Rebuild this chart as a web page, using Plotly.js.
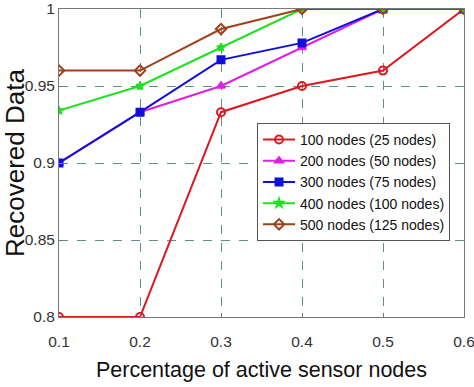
<!DOCTYPE html>
<html><head><meta charset="utf-8">
<script src="https://cdn.plot.ly/plotly-3.0.1.min.js"></script>
<style>body{margin:0;background:#fff}#c{width:474px;height:387px}</style>
</head><body><div id="c"></div>
<script>
const xVals = [0.1, 0.2, 0.3, 0.4, 0.5, 0.6];
const names = ["100 nodes (25 nodes)", "200 nodes (50 nodes)", "300 nodes (75 nodes)", "400 nodes (100 nodes)", "500 nodes (125 nodes)"];
const s100 = [0.8, 0.8, 0.933, 0.95, 0.96, 1.0];
const s200 = [0.9, 0.933, 0.95, 0.975, 1.0, 1.0];
const s300 = [0.9, 0.933, 0.967, 0.978, 1.0, 1.0];
const s400 = [0.934, 0.95, 0.975, 1.0, 1.0, 1.0];
const s500 = [0.96, 0.96, 0.987, 1.0, 1.0, 1.0];
const xTicks = ["0.1", "0.2", "0.3", "0.4", "0.5", "0.6"];
const yTicks = ["0.8", "0.85", "0.9", "0.95", "1"];

const series = [s100, s200, s300, s400, s500];
const colors = ["#dc1820", "#e020e0", "#1010d8", "#20e020", "#a0401a"];
const symbols = ["circle-open", "triangle-up", "square", "star", "diamond-open"];
const sizes = [8, 7, 7, 6, 8];
const traces = series.map((s, i) => ({
  x: xVals, y: s, name: names[i], type: "scatter", mode: "lines+markers",
  line: {color: colors[i], width: 2},
  marker: {symbol: symbols[i], size: sizes[i], color: colors[i], line: {color: colors[i], width: 2}}
}));

const gridColor = "#5f9090";
const layout = {
  width: 474, height: 387,
  margin: {l: 59, r: 10, t: 9, b: 70},
  paper_bgcolor: "#fff", plot_bgcolor: "#fff",
  font: {family: "Liberation Sans, Arial, sans-serif", color: "#222"},
  showlegend: true,
  legend: {x: 0.489, y: 0.63, xanchor: "left", yanchor: "top", bgcolor: "#fff",
    bordercolor: "#555", borderwidth: 1, font: {size: 14, color: "#111"},
    tracegroupgap: 0, itemwidth: 32},
  xaxis: {range: [0.1, 0.6], tickvals: xVals, ticktext: xTicks,
    showgrid: true, gridcolor: gridColor, griddash: "dash", gridwidth: 1,
    showline: true, linecolor: "#777", linewidth: 1, mirror: true, zeroline: false,
    ticks: "inside", ticklen: 4, tickcolor: "#777", ticklabeloverflow: "allow",
    ticklabelstandoff: 10,
    tickfont: {size: 15.5, color: "#333"},
    title: {text: "Percentage of active sensor nodes", font: {size: 21.5, color: "#111"}, standoff: 13}},
  yaxis: {range: [0.8, 1.0], tickvals: [0.8, 0.85, 0.9, 0.95, 1.0], ticktext: yTicks,
    showgrid: true, gridcolor: gridColor, griddash: "dash", gridwidth: 1,
    showline: true, linecolor: "#777", linewidth: 1, mirror: true, zeroline: false,
    ticks: "inside", ticklen: 4, tickcolor: "#777",
    tickfont: {size: 15.5, color: "#333"},
    title: {text: "Recovered Data", font: {size: 26, color: "#111"}, standoff: 0}}
};
Plotly.newPlot("c", traces, layout, {staticPlot: true});
</script></body></html>
